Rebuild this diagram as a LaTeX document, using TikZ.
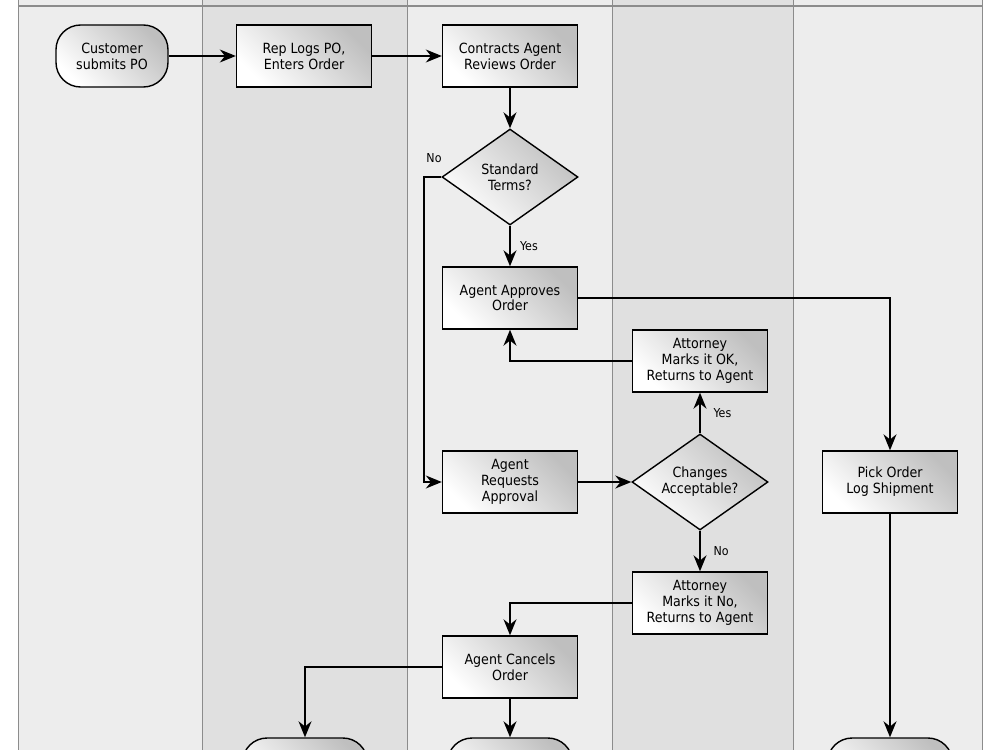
\documentclass[tikz,border=0pt]{standalone}
\usepackage{fontspec}
\setmainfont{DejaVu Sans Condensed}
\usetikzlibrary{arrows.meta}
\usetikzlibrary{shapes.geometric}
\usetikzlibrary{positioning}
\tikzset{
    flow arrow/.style={
        thick,
        -{Stealth[length=3.2mm,width=2.6mm]},
    },
    step box/.style={
        draw,
        thick,
        rectangle,
        minimum width=135*0.02cm,
        minimum height=62*0.02cm,
        align=center,
        inner sep=0,
        font=\fontsize{8}{9}\selectfont,
        left color=white,
        right color=black!25,
        shading angle=135,
    },
    decision/.style={
        step box,
        diamond,
        aspect=1.4,
        minimum width=136*0.02cm,
        minimum height=96*0.02cm,
    },
    terminal/.style={
        step box,
        rounded corners=14pt,
        minimum width=112*0.02cm,
    },
    edge label/.style={
        font=\fontsize{7}{8}\selectfont,
    },
}

\begin{document}
\begin{tikzpicture}[x=0.02cm,y=-0.02cm]
    \useasboundingbox (0,0) rectangle (1000,750);
    \clip (0,0) rectangle (1000,750);

    % swim lanes
    \fill[black!7] (18,0) rectangle (202,760);
    \fill[black!12] (202,0) rectangle (407,760);
    \fill[black!7] (407,0) rectangle (612,760);
    \fill[black!12] (612,0) rectangle (793,760);
    \fill[black!7] (793,0) rectangle (982,760);
    \foreach \x in {18,202,407,612,793,982}
    {
        \draw[black!45] (\x,0) -- (\x,760);
    }
    \draw[black!45, very thick] (18,6) -- (982,6);

    % steps
    \node[terminal] (cust) at (112,56) {Customer\\submits PO};
    \node[step box] (rep) at (304,56) {Rep Logs PO,\\Enters Order};
    \node[step box] (contracts) at (510,56) {Contracts Agent\\Reviews Order};
    \node[decision] (standard) at (510,177) {Standard\\Terms?};
    \node[step box] (approves) at (510,298) {Agent Approves\\Order};
    \node[step box] (attok) at (700,361) {Attorney\\Marks it OK,\\Returns to Agent};
    \node[step box] (requests) at (510,482) {Agent\\Requests\\Approval};
    \node[decision] (changes) at (700,482) {Changes\\Acceptable?};
    \node[step box] (pick) at (890,482) {Pick Order\\Log Shipment};
    \node[step box] (attno) at (700,603) {Attorney\\Marks it No,\\Returns to Agent};
    \node[step box] (cancels) at (510,667) {Agent Cancels\\Order};
    \node[terminal, minimum width=125*0.02cm] (endA) at (305,769) {};
    \node[terminal, minimum width=125*0.02cm] (endB) at (510,769) {};
    \node[terminal, minimum width=125*0.02cm] (endC) at (890,769) {};

    \coordinate (noturn) at (424,177);
    \coordinate (nodown) at (424,482);

    % connectors
    \draw[flow arrow] (cust) -- (rep);
    \draw[flow arrow] (rep) -- (contracts);
    \draw[flow arrow] (contracts) -- (standard);
    \draw[flow arrow] (standard) -- node[edge label, right=2pt] {Yes} (approves);
    \draw[flow arrow] (standard.west) -- (noturn) -- (nodown) -- (requests.west);
    \node[edge label] (nolabel) at (434,158) {No};
    \draw[flow arrow] (approves.east) -| (pick.north);
    \draw[flow arrow] (requests) -- (changes);
    \draw[flow arrow] (changes) -- node[edge label, right=4pt] {Yes} (attok);
    \draw[flow arrow] (attok.west) -| (approves.south);
    \draw[flow arrow] (changes) -- node[edge label, right=4pt] {No} (attno);
    \draw[flow arrow] (attno.west) -| (cancels.north);
    \draw[flow arrow] (cancels.west) -| (endA.north);
    \draw[flow arrow] (cancels) -- (endB);
    \draw[flow arrow] (pick) -- (endC);

\end{tikzpicture}
\end{document}
